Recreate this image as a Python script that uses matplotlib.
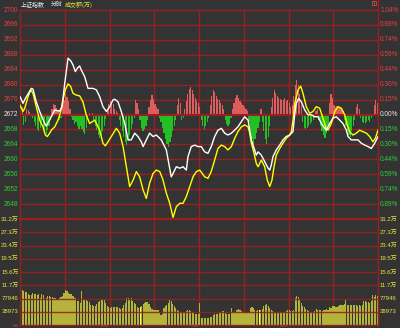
import matplotlib
matplotlib.use('Agg')
import matplotlib.pyplot as plt
from matplotlib.patches import Rectangle
import numpy as np

# ---------------- data ----------------
prev_close = 2672.0

# index (white) line: minutes since open, price
white_min = [0, 2.0, 3.6, 7.6, 8.7, 10.9, 13.2, 16.6, 17.6, 21.0, 23.3, 26.6, 28.2, 30.0, 32.2, 34.0,
             35.5, 37.1, 38.4, 40.0, 41.1, 43.4, 45.6, 48.9, 51.2, 53.4, 55.6, 57.9, 60.1, 62.3, 63.5,
             65.7, 67.9, 70.2, 72.4, 74.6, 76.9, 79.1, 81.3, 82.5, 84.7, 86.9, 89.2, 91.4, 94.7, 98.1,
             101.4, 102.6, 104.8, 107.1, 109.3, 111.5, 112.6, 114.8, 117.1, 119.3, 121.5, 123.8, 126.0,
             128.2, 130.5, 132.7, 135.0, 137.2, 139.4, 141.7, 143.9, 146.1, 148.4, 150.6, 152.9, 154.0,
             155.1, 157.3, 158.4, 159.6, 161.8, 164.0, 166.3, 167.4, 168.5, 169.6, 171.8, 174.1, 176.3,
             178.5, 180.8, 183.0, 184.2, 185.2, 186.8, 188.6, 190.9, 193.1, 195.3, 197.6, 199.8, 202.0,
             204.3, 205.3, 207.6, 209.8, 212.0, 214.3, 216.5, 218.8, 219.9, 222.1, 224.4, 226.6, 228.8,
             231.1, 233.3, 235.5, 237.8, 240.0]
white_price = [2676.8, 2675.0, 2676.3, 2679.0, 2678.8, 2675.4, 2672.8, 2669.6, 2668.9, 2671.4, 2673.2,
               2672.9, 2674.1, 2680.4, 2687.1, 2686.4, 2685.3, 2683.5, 2684.4, 2685.0, 2683.9, 2682.1,
               2679.0, 2679.0, 2678.6, 2676.8, 2674.1, 2672.8, 2674.1, 2675.9, 2676.1, 2675.4, 2672.8,
               2669.6, 2665.2, 2665.2, 2667.0, 2666.1, 2664.7, 2663.4, 2665.2, 2667.0, 2666.1, 2666.5,
               2665.2, 2662.5, 2655.3, 2656.2, 2658.0, 2657.6, 2658.0, 2657.1, 2660.7, 2663.4, 2663.8,
               2663.4, 2663.4, 2662.0, 2661.6, 2663.4, 2666.1, 2667.8, 2668.3, 2667.0, 2666.5, 2667.0,
               2667.8, 2668.7, 2670.1, 2671.4, 2670.5, 2667.8, 2665.2, 2662.5, 2661.1, 2662.0, 2661.1,
               2659.4, 2657.6, 2657.1, 2658.5, 2660.7, 2662.5, 2663.8, 2665.2, 2666.1, 2666.5, 2667.4,
               2672.3, 2675.0, 2676.3, 2675.4, 2673.2, 2671.9, 2671.9, 2671.4, 2671.4, 2669.6, 2668.3,
               2667.8, 2669.6, 2671.0, 2671.4, 2670.5, 2669.6, 2667.8, 2666.1, 2665.2, 2665.2, 2665.2,
               2664.3, 2663.8, 2663.4, 2662.9, 2664.3, 2666.1]

# yellow line (unweighted index)
yellow_min = [0, 2.0, 3.2, 5.4, 7.2, 8.7, 10.9, 13.2, 15.4, 17.0, 18.3, 19.9, 21.0, 23.3, 25.5, 27.3,
              28.8, 30.4, 32.2, 34.0, 35.5, 37.7, 40.0, 42.2, 44.4, 46.7, 50.1, 53.4, 55.6, 57.2, 59.0,
              61.2, 64.6, 66.8, 69.1, 71.3, 73.5, 75.8, 78.0, 80.2, 82.5, 84.7, 86.9, 89.2, 91.4, 93.7,
              95.9, 98.1, 100.4, 102.6, 104.8, 107.1, 109.3, 111.5, 113.8, 116.0, 118.2, 120.5, 123.8,
              126.0, 128.2, 130.5, 132.7, 135.0, 137.2, 139.4, 141.7, 143.9, 146.1, 148.4, 150.6, 152.9,
              154.0, 155.1, 156.9, 158.4, 159.6, 161.8, 164.0, 165.8, 167.4, 168.9, 170.3, 171.8, 174.1,
              176.3, 178.5, 180.8, 181.9, 183.0, 184.2, 186.4, 188.2, 189.7, 191.9, 194.2, 196.4, 198.6,
              200.9, 203.1, 205.3, 206.5, 208.7, 211.0, 213.2, 215.4, 217.7, 219.4, 221.0, 223.2, 225.5,
              227.7, 229.9, 232.2, 234.4, 236.6, 238.2, 240.0]
yellow_price = [2674.5, 2672.8, 2673.7, 2676.8, 2678.6, 2677.7, 2674.1, 2670.5, 2668.7, 2666.5, 2666.1,
                2667.0, 2667.8, 2668.7, 2670.5, 2672.8, 2675.9, 2678.6, 2680.2, 2679.5, 2677.7, 2677.2,
                2677.0, 2675.4, 2671.9, 2669.6, 2670.5, 2667.8, 2664.3, 2663.6, 2664.7, 2666.1, 2668.3,
                2667.0, 2663.4, 2658.0, 2652.7, 2654.4, 2656.7, 2655.3, 2651.8, 2649.5, 2653.6, 2656.2,
                2657.1, 2656.7, 2654.4, 2650.9, 2648.2, 2644.4, 2647.3, 2648.2, 2648.2, 2650.0, 2652.7,
                2655.3, 2656.7, 2657.1, 2655.3, 2654.9, 2656.7, 2659.8, 2662.9, 2663.8, 2663.4, 2662.5,
                2663.4, 2665.6, 2667.4, 2668.7, 2669.2, 2668.7, 2667.0, 2664.3, 2661.6, 2658.9, 2658.0,
                2659.8, 2658.0, 2654.4, 2652.7, 2654.4, 2658.0, 2661.1, 2662.9, 2664.3, 2665.6, 2666.5,
                2667.4, 2670.5, 2675.0, 2678.6, 2679.6, 2677.7, 2674.1, 2672.3, 2672.8, 2674.1, 2673.7,
                2671.0, 2668.3, 2667.8, 2669.6, 2672.8, 2674.1, 2673.7, 2671.9, 2669.2, 2667.4, 2666.5,
                2667.0, 2667.8, 2667.4, 2667.0, 2666.1, 2664.7, 2665.6, 2667.8]

# buy/sell strength bars (index points relative to previous close), one per minute
strength = [1.5, 2.1, -2.7, -2.0, 1.6, 1.2, 0.8,
            0.0,
            -1.0, -2.0, -3.0, -3.8, -4.3, -3.5, -2.5, -3.5, -4.5, -5.1, -4.2, -3.0, -1.5,
            1.5, 2.9, 2.5, 1.8, 1.0,
            -1.5, -1.0,
            2.0, 4.0, 5.6, 4.8, 3.5, 1.5,
            -0.8, -1.5, -2.5, -2.0, -3.0, -3.8, -3.0, -4.0, -4.6, -5.1, -3.5, -1.5,
            0.5, 0.0, 0.5,
            -1.5, -3.0, -4.2, -5.5, -6.4, -5.8, -4.5, -3.0, -1.2,
            1.5, 2.8, 3.7, 3.2, 2.9, 1.5, 1.0, 0.5,
            -1.5, -3.0, -4.5, -6.0, -7.5, -8.2, -7.0, -5.5, -4.0, -2.5, -1.0,
            3.9, 3.0, 1.5,
            -1.5, -3.5, -4.5, -4.0, -3.0, -1.5,
            2.0, 4.0, 5.2, 4.2, 2.8, 2.0, 1.6,
            -1.0, -2.0, -3.5, -5.0, -6.5, -7.8, -8.6, -7.5, -6.0, -4.5, -3.0, -1.5,
            2.5, 4.3, 3.0,
            -1.5, -1.0,
            1.5, 3.5, 5.5, 6.8, 7.5, 6.5, 5.5, 4.5, 3.5, 3.0, 2.0,
            -1.5, -3.0, -3.8, -3.0, -2.0, -1.0,
            2.5, 5.0, 6.5, 6.0, 5.0, 4.2, 3.8, 3.0, 2.5, 1.5,
            -1.5, -2.5, -3.2, -2.5, -1.0,
            1.5, 3.0, 4.5, 5.2, 4.5, 3.5, 3.0, 2.5, 2.0, 1.5, 1.0,
            -2.0, -4.5, -6.5, -7.8, -6.5, -5.0, -3.5, -2.0,
            1.6,
            -2.0, -4.5, -6.5, -7.8, -6.0, -3.0,
            2.0, 4.5, 6.5, 5.8, 5.0, 4.5, 4.2, 4.0, 3.8, 4.5, 3.5, 3.8, 3.0, 2.0,
            2.5, 5.0, 8.0, 9.2, 8.0, 5.5, 2.5,
            -2.0, -3.5, -4.0, -3.5, -3.0, -2.5, -2.0, -1.5, -1.0,
            1.0, 1.5,
            -1.5, -3.0, -4.5, -5.5, -6.4, -5.0, -3.0,
            3.0, 5.6, 4.5, 2.5, 2.0, 2.2, 2.0, 2.0, 1.5, 1.0,
            -1.5, -3.0, -4.5, -5.5, -5.9, -4.5, -3.0, -1.5,
            2.0, 2.7, 1.5,
            -1.0, -2.0, -2.2, -2.4, -2.0, -1.5, -2.0, -1.0, -0.5,
            2.5, 3.9, 3.0]

# volume per minute (thousands)
volume_k = [290, 102, 100, 97, 97, 90, 87, 88, 93, 92, 90, 88, 92, 80, 90, 88, 75, 78, 85, 86,
            83, 83, 80, 80, 77, 75, 78, 83, 85, 95, 102, 100, 95, 92, 90, 85, 80, 78, 72, 70,
            65, 100, 75, 77, 75, 72, 68, 60, 58, 55, 57, 62, 67, 72, 77, 75, 73, 65, 55, 53,
            50, 52, 53, 52, 53, 52, 50, 48, 50, 60, 65, 78, 80, 75, 78, 72, 65, 62, 52, 50,
            52, 55, 62, 65, 67, 67, 62, 52, 48, 45, 45, 44, 45, 38, 30, 32, 50, 55, 60, 65,
            73, 72, 63, 55, 50, 45, 42, 38, 37, 37, 37, 40, 43, 43, 42, 38, 35, 33, 33, 32,
            65, 22, 20, 21, 21, 20, 22, 23, 25, 28, 32, 33, 33, 35, 38, 40, 40, 36, 33, 32,
            33, 50, 38, 38, 37, 45, 47, 45, 40, 38, 36, 35, 35, 37, 50, 53, 50, 45, 42, 43,
            45, 45, 48, 55, 60, 62, 55, 50, 45, 42, 37, 35, 35, 35, 36, 37, 37, 38, 40, 43,
            43, 42, 42, 43, 78, 85, 82, 75, 65, 55, 52, 47, 45, 40, 38, 37, 38, 40, 47, 45,
            43, 43, 42, 45, 45, 47, 45, 52, 50, 57, 55, 53, 52, 55, 58, 60, 58, 62, 75, 60,
            60, 58, 60, 60, 58, 60, 57, 58, 55, 58, 72, 70, 67, 68, 65, 72, 87, 83, 87, 85]
highlight_min = [0, 80, 160]

price_ticks = [2700, 2696, 2692, 2688, 2684, 2680, 2676, 2672, 2668, 2664, 2660, 2656, 2652, 2648]
pct_labels = ['1.04%', '0.89%', '0.74%', '0.59%', '0.44%', '0.30%', '0.15%', '0.00%',
              '0.15%', '0.30%', '0.44%', '0.59%', '0.74%', '0.89%']
vol_ticks_k = [311.784, 272.811, 233.838, 194.865, 155.892, 116.919, 77.946, 38.973]
vol_labels = ['31.2万', '27.3万', '23.4万', '19.5万', '15.6万', '11.7万', '77946', '38973']
time_ticks = [0, 60, 120, 180]
time_labels = ['9:30', '10:30', '13:00', '14:00']

# ---------------- style ----------------
BG = '#333333'
GRID = '#9a2020'
RED_T = '#e84040'
GRN_T = '#36cc36'
YEL_T = '#e8e83a'
WHT_T = '#e6e6e6'
LBL_FONT = ['Liberation Sans', 'Noto Sans CJK SC', 'DejaVu Sans']
CJK_FONT = ['Noto Sans CJK SC', 'DejaVu Sans']
FS = 4.7
FS_V = 4.3

W, H = 400, 328
fig = plt.figure(figsize=(W / 100, H / 100), dpi=100, facecolor=BG)
axp = fig.add_axes([20 / W, 1 - 219 / H, 358 / W, 209 / H])
axv = fig.add_axes([20 / W, 1 - 325 / H, 358 / W, 106 / H])

for ax in (axp, axv):
    ax.set_facecolor(BG)
    ax.set_xlim(0, 240)
    ax.set_xticks([])
    ax.set_yticks([])
    for s in ax.spines.values():
        s.set_color(GRID)
        s.set_linewidth(1.0)
    for m in range(30, 240, 30):
        ax.axvline(m, color=GRID, lw=1.0, zorder=1)

axp.set_ylim(2644, 2700)
axv.set_ylim(0, 311.784)
axp.spines['bottom'].set_linewidth(1.6)
axv.spines['top'].set_linewidth(1.6)

for p in price_ticks[1:]:
    axp.axhline(p, color=GRID, lw=1.5 if p == prev_close else 1.0, zorder=1)

# strength bars
idx = np.arange(len(strength)) + 0.5
st = np.array(strength)
cols = np.where(st >= 0, '#de5c5c', '#22c022')
axp.bar(idx, st, bottom=prev_close, width=0.8, color=cols, linewidth=0, zorder=2)
axp.axhline(prev_close, color=GRID, lw=1.5, zorder=2.5)

# lines
axp.plot(yellow_min, yellow_price, color='#ffff00', lw=1.0, zorder=3)
axp.plot(white_min, white_price, color='#ffffff', lw=1.0, zorder=4)

# volume bars
vidx = np.arange(len(volume_k)) + 0.5
vcols = ['#ffff3c' if i in highlight_min else '#b4b43a' for i in range(len(volume_k))]
axv.bar(vidx, volume_k, width=0.75, color=vcols, linewidth=0, zorder=2)
for v in vol_ticks_k[1:]:
    axv.axhline(v, color=GRID, lw=1.0, zorder=3, alpha=0.9)

# left / right labels
ytp = axp.get_yaxis_transform()
for p, lab in zip(price_ticks, pct_labels):
    c = RED_T if p > prev_close else (WHT_T if p == prev_close else GRN_T)
    axp.text(-0.006, p, str(p), transform=ytp, ha='right', va='center', fontsize=FS,
             color=c, family=LBL_FONT)
    axp.text(1.006, p, lab, transform=ytp, ha='left', va='center', fontsize=FS,
             color=c, family=LBL_FONT)

ytv = axv.get_yaxis_transform()
for v, lab in zip(vol_ticks_k, vol_labels):
    axv.text(-0.004, v, lab, transform=ytv, ha='right', va='center', fontsize=FS_V,
             color=YEL_T, family=LBL_FONT)
    axv.text(1.004, v, lab, transform=ytv, ha='left', va='center', fontsize=FS_V,
             color=YEL_T, family=LBL_FONT)

# time labels squeezed into the thin strip under the volume panel
xtv = axv.get_xaxis_transform()
for t, lab in zip(time_ticks, time_labels):
    axv.text(t - 0.5, -0.027, lab, transform=xtv, ha='right', va='bottom', fontsize=2.3,
             color=RED_T, family=LBL_FONT)

# title
axp.text(0.002, 1.026, '上证指数', transform=axp.transAxes, ha='left', va='center',
         fontsize=4.3, color='#f0f0f0', family=CJK_FONT)
axp.text(0.086, 1.026, '分时', transform=axp.transAxes, ha='left', va='center',
         fontsize=4.3, color='#f0f0f0', family=CJK_FONT)
axp.text(0.126, 1.026, '成交额(万)', transform=axp.transAxes, ha='left', va='center',
         fontsize=4.3, color=YEL_T, family=CJK_FONT)

# right edge extension and small icon
axp.plot([1, 1], [1, 1.05], transform=axp.transAxes, color=GRID, lw=1.0, clip_on=False)
axp.add_patch(Rectangle((0.982, 1.024), 0.013, 0.018, transform=axp.transAxes,
                        fill=False, edgecolor='#c84848', lw=0.6, clip_on=False))
axp.plot([0.9885, 0.9885], [1.024, 1.042], transform=axp.transAxes, color='#c84848',
         lw=0.5, clip_on=False)

fig.savefig('out.png', dpi=100, facecolor=BG)
